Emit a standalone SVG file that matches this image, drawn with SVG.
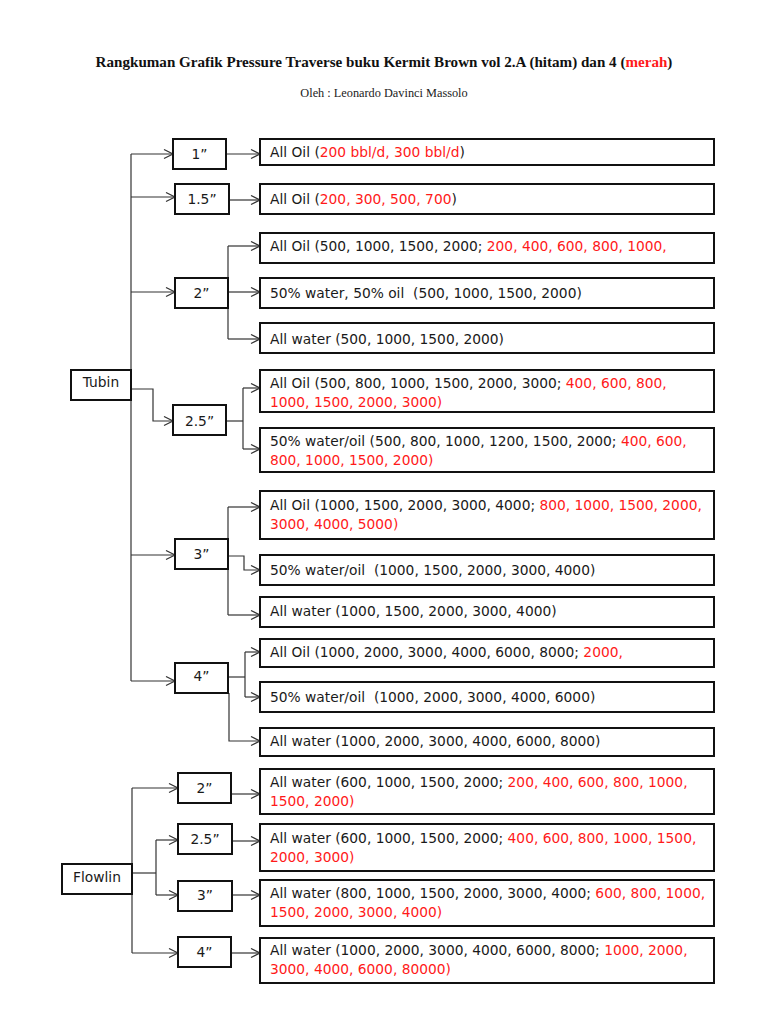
<svg xmlns="http://www.w3.org/2000/svg" width="768" height="1024" viewBox="0 0 768 1024">
<style>
.bg{fill:#ffffff}
.box{fill:#ffffff;stroke:#111;stroke-width:2}
.t{font-family:"DejaVu Sans",sans-serif;font-size:13.8px;fill:#1a1a1a;white-space:pre}
.c{text-anchor:middle}
.r{fill:#ff1a1a}
.ln{fill:none;stroke:#333;stroke-width:1.2}
.arr{fill:none;stroke:#333;stroke-width:1.2;marker-end:url(#ah)}
.title{font-family:"Liberation Serif",serif;font-weight:bold;font-size:15.1px;fill:#111;text-anchor:middle}
.sub{font-family:"Liberation Serif",serif;font-size:12.3px;fill:#222;text-anchor:middle}
</style>
<defs>
<marker id="ah" markerUnits="userSpaceOnUse" markerWidth="12" markerHeight="12" refX="10" refY="5" orient="auto">
<path d="M1,0.5 L10,5 L1,9.5" fill="none" stroke="#333" stroke-width="1.2"/>
</marker>
</defs>
<rect class="bg" x="0" y="0" width="768" height="1024"/>
<g id="header">
<text class="title" x="384" y="67">Rangkuman Grafik Pressure Traverse buku Kermit Brown vol 2.A (hitam) dan 4 (<tspan class="r">merah</tspan>)</text>
<text class="sub" x="384" y="97">Oleh : Leonardo Davinci Massolo</text>
</g>
<g id="connectors">
<line class="ln" x1="131" y1="154" x2="131" y2="681"/>
<line class="arr" x1="131" y1="154" x2="173" y2="154"/>
<line class="arr" x1="131" y1="197" x2="175" y2="197"/>
<line class="arr" x1="131" y1="292" x2="175" y2="292"/>
<polyline class="arr" points="131,389 153,389 153,421 173,421"/>
<line class="arr" x1="131" y1="555" x2="175" y2="555"/>
<line class="arr" x1="131" y1="681" x2="175" y2="681"/>
<line class="arr" x1="226" y1="154" x2="260" y2="154"/>
<line class="arr" x1="229" y1="200" x2="260" y2="200"/>
<line class="ln" x1="228" y1="246" x2="228" y2="339"/>
<line class="arr" x1="228" y1="246" x2="260" y2="246"/>
<line class="arr" x1="228" y1="292" x2="260" y2="292"/>
<line class="arr" x1="228" y1="339" x2="260" y2="339"/>
<line class="ln" x1="226" y1="421" x2="243" y2="421"/>
<line class="ln" x1="243" y1="388" x2="243" y2="449"/>
<line class="arr" x1="243" y1="388" x2="260" y2="388"/>
<line class="arr" x1="243" y1="449" x2="260" y2="449"/>
<line class="ln" x1="228" y1="507" x2="228" y2="615"/>
<line class="arr" x1="228" y1="507" x2="260" y2="507"/>
<polyline class="arr" points="228,556 244,556 244,570 260,570"/>
<line class="arr" x1="228" y1="615" x2="260" y2="615"/>
<line class="ln" x1="228" y1="677" x2="245" y2="677" stroke-width="2"/>
<line class="ln" x1="245" y1="652" x2="245" y2="697"/>
<line class="arr" x1="245" y1="652" x2="260" y2="652"/>
<line class="arr" x1="245" y1="697" x2="260" y2="697"/>
<polyline class="arr" points="229,693 229,741 260,741"/>
<line class="ln" x1="132" y1="788" x2="132" y2="953"/>
<line class="arr" x1="132" y1="788" x2="178" y2="788"/>
<line class="arr" x1="132" y1="953" x2="178" y2="953"/>
<line class="ln" x1="132" y1="873" x2="156" y2="873"/>
<line class="ln" x1="156" y1="840" x2="156" y2="895"/>
<line class="arr" x1="156" y1="840" x2="178" y2="840"/>
<line class="arr" x1="156" y1="895" x2="178" y2="895"/>
<line class="arr" x1="231" y1="794" x2="260" y2="794"/>
<line class="arr" x1="232" y1="841" x2="260" y2="841"/>
<line class="arr" x1="232" y1="895" x2="260" y2="895"/>
<line class="arr" x1="231" y1="953" x2="260" y2="953"/>
</g>
<g id="tubin"><rect class="box" x="71" y="370" width="60" height="30"/><text class="t c" x="101" y="387">Tubin</text></g>
<g id="t1"><rect class="box" x="173" y="139" width="53" height="30"/><text class="t c" x="199.5" y="159">1”</text></g>
<g id="t15"><rect class="box" x="175" y="184" width="54" height="30"/><text class="t c" x="202" y="204">1.5”</text></g>
<g id="t2"><rect class="box" x="175" y="278" width="53" height="30"/><text class="t c" x="201.5" y="298">2”</text></g>
<g id="t25"><rect class="box" x="173" y="405" width="53" height="30"/><text class="t c" x="199.5" y="426">2.5”</text></g>
<g id="t3"><rect class="box" x="175" y="539" width="53" height="30"/><text class="t c" x="201.5" y="559">3”</text></g>
<g id="t4"><rect class="box" x="175" y="663" width="53" height="30"/><text class="t c" x="201.5" y="681">4”</text></g>
<g id="flowlin"><rect class="box" x="62" y="864" width="70" height="30"/><text class="t c" x="97" y="882">Flowlin</text></g>
<g id="f2"><rect class="box" x="178" y="773" width="53" height="30"/><text class="t c" x="204.5" y="793">2”</text></g>
<g id="f25"><rect class="box" x="178" y="824" width="54" height="30"/><text class="t c" x="205" y="844">2.5”</text></g>
<g id="f3"><rect class="box" x="178" y="881" width="54" height="30"/><text class="t c" x="205" y="900">3”</text></g>
<g id="f4"><rect class="box" x="178" y="937" width="53" height="30"/><text class="t c" x="204.5" y="957">4”</text></g>
<g id="r1"><rect class="box" x="260" y="139" width="454" height="26"/><text class="t" x="270" y="157">All Oil (<tspan class="r">200 bbl/d, 300 bbl/d</tspan>)</text></g>
<g id="r2"><rect class="box" x="260" y="184" width="454" height="30"/><text class="t" x="270" y="204">All Oil (<tspan class="r">200, 300, 500, 700</tspan>)</text></g>
<g id="r3"><rect class="box" x="260" y="233" width="454" height="30"/><text class="t" x="270" y="251">All Oil (500, 1000, 1500, 2000; <tspan class="r">200, 400, 600, 800, 1000,</tspan></text></g>
<g id="r4"><rect class="box" x="260" y="278" width="454" height="30"/><text class="t" x="270" y="298">50% water, 50% oil  (500, 1000, 1500, 2000)</text></g>
<g id="r5"><rect class="box" x="260" y="323" width="454" height="30"/><text class="t" x="270" y="344">All water (500, 1000, 1500, 2000)</text></g>
<g id="r6"><rect class="box" x="260" y="370" width="454" height="42"/><text class="t" x="270" y="388">All Oil (500, 800, 1000, 1500, 2000, 3000; <tspan class="r">400, 600, 800,</tspan></text><text class="t r" x="270" y="407">1000, 1500, 2000, 3000)</text></g>
<g id="r7"><rect class="box" x="260" y="428" width="454" height="44"/><text class="t" x="270" y="446">50% water/oil (500, 800, 1000, 1200, 1500, 2000; <tspan class="r">400, 600,</tspan></text><text class="t r" x="270" y="465">800, 1000, 1500, 2000)</text></g>
<g id="r8"><rect class="box" x="260" y="491" width="454" height="48"/><text class="t" x="270" y="510">All Oil (1000, 1500, 2000, 3000, 4000; <tspan class="r">800, 1000, 1500, 2000,</tspan></text><text class="t r" x="270" y="529">3000, 4000, 5000)</text></g>
<g id="r9"><rect class="box" x="260" y="555" width="454" height="30"/><text class="t" x="270" y="575">50% water/oil  (1000, 1500, 2000, 3000, 4000)</text></g>
<g id="r10"><rect class="box" x="260" y="597" width="454" height="30"/><text class="t" x="270" y="616">All water (1000, 1500, 2000, 3000, 4000)</text></g>
<g id="r11"><rect class="box" x="260" y="639" width="454" height="28"/><text class="t" x="270" y="657">All Oil (1000, 2000, 3000, 4000, 6000, 8000; <tspan class="r">2000,</tspan></text></g>
<g id="r12"><rect class="box" x="260" y="682" width="454" height="30"/><text class="t" x="270" y="702">50% water/oil  (1000, 2000, 3000, 4000, 6000)</text></g>
<g id="r13"><rect class="box" x="260" y="728" width="454" height="28"/><text class="t" x="270" y="746">All water (1000, 2000, 3000, 4000, 6000, 8000)</text></g>
<g id="r14"><rect class="box" x="260" y="769" width="454" height="45"/><text class="t" x="270" y="787">All water (600, 1000, 1500, 2000; <tspan class="r">200, 400, 600, 800, 1000,</tspan></text><text class="t r" x="270" y="806">1500, 2000)</text></g>
<g id="r15"><rect class="box" x="260" y="824" width="454" height="47"/><text class="t" x="270" y="843">All water (600, 1000, 1500, 2000; <tspan class="r">400, 600, 800, 1000, 1500,</tspan></text><text class="t r" x="270" y="862">2000, 3000)</text></g>
<g id="r16"><rect class="box" x="260" y="880" width="454" height="46"/><text class="t" x="270" y="898">All water (800, 1000, 1500, 2000, 3000, 4000; <tspan class="r">600, 800, 1000,</tspan></text><text class="t r" x="270" y="917">1500, 2000, 3000, 4000)</text></g>
<g id="r17"><rect class="box" x="260" y="938" width="454" height="45"/><text class="t" x="270" y="955">All water (1000, 2000, 3000, 4000, 6000, 8000; <tspan class="r">1000, 2000,</tspan></text><text class="t r" x="270" y="974">3000, 4000, 6000, 80000)</text></g>
</svg>
